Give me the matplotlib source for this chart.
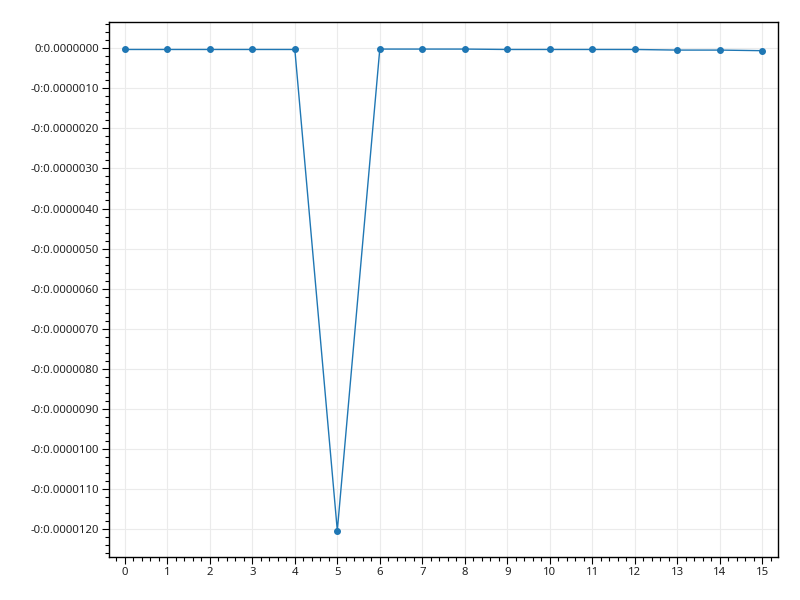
import matplotlib
matplotlib.use("Agg")
import matplotlib.pyplot as plt
from matplotlib.ticker import MultipleLocator, FuncFormatter

# data (values in seconds)
x_values = list(range(16))
y_values = [-0.03e-6, -0.03e-6, -0.03e-6, -0.03e-6, -0.03e-6,
            -12.04e-6,
            -0.02e-6, -0.02e-6, -0.02e-6, -0.03e-6, -0.03e-6,
            -0.03e-6, -0.03e-6, -0.045e-6, -0.045e-6, -0.06e-6]


def timespan_label(v, pos):
    if abs(v) < 1e-12:
        return "0:0.0000000"
    sign = "-" if v < 0 else ""
    return sign + "0:" + "%.7f" % abs(v)


plt.rcParams['font.family'] = ['Noto Sans', 'DejaVu Sans']

fig = plt.figure(figsize=(8, 6), dpi=100)
ax = fig.add_axes([0.13625, 0.07167, 0.83625, 0.89166])

ax.plot(x_values, y_values, color="#1f77b4", linewidth=1.0,
        marker="o", markersize=4, zorder=3)

ax.set_xlim(-0.375, 15.375)
ax.set_ylim(-12.70e-6, 0.656e-6)

ax.xaxis.set_major_locator(MultipleLocator(1))
ax.xaxis.set_minor_locator(MultipleLocator(0.2))
ax.yaxis.set_major_locator(MultipleLocator(1e-6))
ax.yaxis.set_minor_locator(MultipleLocator(0.2e-6))
ax.yaxis.set_major_formatter(FuncFormatter(timespan_label))

ax.grid(True, which="major", color="#ebebeb", linewidth=0.8)
ax.set_axisbelow(True)

ax.tick_params(which="major", direction="out", length=5, width=0.8,
               labelsize=8.2, colors="black", labelcolor="#222222", pad=2)
ax.tick_params(which="minor", direction="out", length=3, width=0.8)
for spine in ax.spines.values():
    spine.set_color("black")
    spine.set_linewidth(1)

fig.savefig("out.png", dpi=100)
